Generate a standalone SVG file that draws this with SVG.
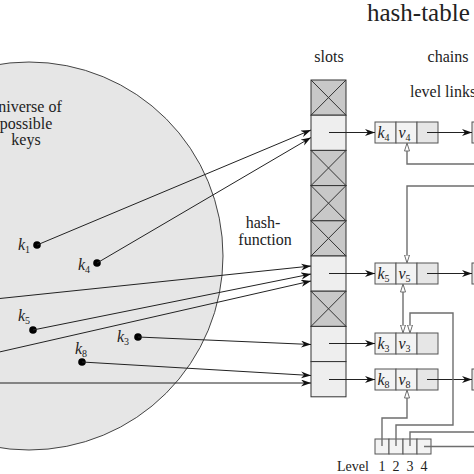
<svg xmlns="http://www.w3.org/2000/svg" width="474" height="474" viewBox="0 0 474 474" font-family="'Liberation Serif', 'DejaVu Serif', serif">
<style>
text{font-family:'Liberation Serif','DejaVu Serif',serif;fill:#222}
.lbl{font-size:16px}
.m{font-style:italic;font-size:16px}
.sub{font-style:normal;font-size:10px}
.slotx{fill:#c8c8c8;stroke:#333;stroke-width:1}
.slot{fill:#eeeeee;stroke:#333;stroke-width:1}
.x{stroke:#333;stroke-width:1}
.cell{fill:#f3f3f3;stroke:#555;stroke-width:1}
.ptr{fill:#e6e6e6;stroke:#555;stroke-width:1}
.blk{stroke:#222;stroke-width:1;fill:none;marker-end:url(#ah)}
.lvl{stroke:#6e6e6e;stroke-width:1.4;fill:none}
.dot{fill:#000}
</style>
<defs>
<marker id="ah" markerUnits="userSpaceOnUse" markerWidth="11" markerHeight="8" refX="10" refY="3.5" orient="auto">
<path d="M0,0 L10,3.5 L0,7 L3,3.5 z" fill="#111"/>
</marker>
<marker id="oh" markerUnits="userSpaceOnUse" markerWidth="10" markerHeight="8" refX="8.5" refY="3" orient="auto-start-reverse">
<path d="M0.5,0.5 L8.5,3 L0.5,5.5 z" fill="#fff" stroke="#6e6e6e" stroke-width="1"/>
</marker>
</defs>

<g id="universe">
<circle cx="29" cy="256" r="194" fill="#e6e6e6" stroke="#444" stroke-width="1"/>
<text class="lbl" x="26" y="112" text-anchor="middle">universe of</text>
<text class="lbl" x="26" y="128.5" text-anchor="middle">possible</text>
<text class="lbl" x="26" y="145" text-anchor="middle">keys</text>
</g>

<g id="keys">
<g id="key-k1"><circle class="dot" cx="37" cy="245" r="3.8"/><text class="m" x="18" y="250">k<tspan class="sub" dy="3">1</tspan></text></g>
<g id="key-k4"><circle class="dot" cx="97" cy="263" r="3.8"/><text class="m" x="78" y="270">k<tspan class="sub" dy="3">4</tspan></text></g>
<g id="key-k5"><circle class="dot" cx="33" cy="330" r="3.8"/><text class="m" x="18" y="321">k<tspan class="sub" dy="3">5</tspan></text></g>
<g id="key-k3"><circle class="dot" cx="138" cy="337" r="3.8"/><text class="m" x="117" y="342">k<tspan class="sub" dy="3">3</tspan></text></g>
<g id="key-k8"><circle class="dot" cx="82" cy="362" r="3.8"/><text class="m" x="75" y="354">k<tspan class="sub" dy="3">8</tspan></text></g>
</g>

<g id="labels">
<text x="367" y="21" style="font-size:25px">hash-table</text>
<text class="lbl" x="329" y="62" text-anchor="middle">slots</text>
<text class="lbl" x="448" y="62" text-anchor="middle">chains</text>
<text class="lbl" x="410" y="97">level links</text>
<text class="lbl" x="263" y="228" text-anchor="middle">hash-</text>
<text class="lbl" x="265" y="245" text-anchor="middle">function</text>
</g>

<g id="slots">
<rect class="slotx" x="311" y="80" width="35" height="35.2"/><path class="x" d="M311,80 L346,115.2 M346,80 L311,115.2"/>
<rect class="slot" x="311" y="115.2" width="35" height="35.2"/>
<rect class="slotx" x="311" y="150.4" width="35" height="35.2"/><path class="x" d="M311,150.4 L346,185.6 M346,150.4 L311,185.6"/>
<rect class="slotx" x="311" y="185.6" width="35" height="35.2"/><path class="x" d="M311,185.6 L346,220.8 M346,185.6 L311,220.8"/>
<rect class="slotx" x="311" y="220.8" width="35" height="35.2"/><path class="x" d="M311,220.8 L346,256 M346,220.8 L311,256"/>
<rect class="slot" x="311" y="256" width="35" height="35.2"/>
<rect class="slotx" x="311" y="291.2" width="35" height="35.2"/><path class="x" d="M311,291.2 L346,326.4 M346,291.2 L311,326.4"/>
<rect class="slot" x="311" y="326.4" width="35" height="35.2"/>
<rect class="slot" x="311" y="361.6" width="35" height="35.2"/>
</g>

<g id="node-k4">
<rect class="cell" x="375" y="122" width="21" height="21"/><rect class="cell" x="396" y="122" width="21" height="21"/><rect class="ptr" x="417" y="122" width="21" height="21"/>
<text class="m" x="377.5" y="137.5">k<tspan class="sub" dy="3">4</tspan></text>
<text class="m" x="398.5" y="137.5">v<tspan class="sub" dy="3">4</tspan></text>
</g>
<g id="node-k5">
<rect class="cell" x="375" y="263" width="21" height="21"/><rect class="cell" x="396" y="263" width="21" height="21"/><rect class="ptr" x="417" y="263" width="21" height="21"/>
<text class="m" x="377.5" y="278.5">k<tspan class="sub" dy="3">5</tspan></text>
<text class="m" x="398.5" y="278.5">v<tspan class="sub" dy="3">5</tspan></text>
</g>
<g id="node-k3">
<rect class="cell" x="375" y="333" width="21" height="21"/><rect class="cell" x="396" y="333" width="21" height="21"/><rect class="ptr" x="417" y="333" width="21" height="21"/>
<text class="m" x="377.5" y="348.5">k<tspan class="sub" dy="3">3</tspan></text>
<text class="m" x="398.5" y="348.5">v<tspan class="sub" dy="3">3</tspan></text>
</g>
<g id="node-k8">
<rect class="cell" x="375" y="369" width="21" height="21"/><rect class="cell" x="396" y="369" width="21" height="21"/><rect class="ptr" x="417" y="369" width="21" height="21"/>
<text class="m" x="377.5" y="384.5">k<tspan class="sub" dy="3">8</tspan></text>
<text class="m" x="398.5" y="384.5">v<tspan class="sub" dy="3">8</tspan></text>
</g>
<g id="next-nodes">
<rect class="ptr" x="472" y="122" width="21" height="21"/>
<rect class="ptr" x="472" y="263" width="21" height="21"/>
<rect class="ptr" x="472" y="369" width="21" height="21"/>
</g>

<g id="level-array">
<rect class="cell" x="375" y="439" width="14" height="15"/><rect class="cell" x="389" y="439" width="14" height="15"/><rect class="cell" x="403" y="439" width="14" height="15"/><rect class="cell" x="417" y="439" width="14" height="15"/>
<text x="337" y="471" style="font-size:14px">Level</text>
<text x="382" y="471" style="font-size:14px" text-anchor="middle">1</text>
<text x="396" y="471" style="font-size:14px" text-anchor="middle">2</text>
<text x="410" y="471" style="font-size:14px" text-anchor="middle">3</text>
<text x="424" y="471" style="font-size:14px" text-anchor="middle">4</text>
</g>

<g id="connectors">
<path class="blk" d="M37,245 L311,130"/>
<path class="blk" d="M97,263 L311,137.5"/>
<path class="blk" d="M-5,299 L311,266"/>
<path class="blk" d="M33,330 L311,274"/>
<path class="blk" d="M-5,353 L311,281"/>
<path class="blk" d="M138,337 L311,344.5"/>
<path class="blk" d="M82,362 L311,375.5"/>
<path class="blk" d="M-5,383 L311,383"/>
<path class="blk" d="M329,132.5 L375,132.5"/>
<path class="blk" d="M329,273.5 L375,273.5"/>
<path class="blk" d="M329,343.5 L375,343.5"/>
<path class="blk" d="M329,379.5 L375,379.5"/>
<path class="blk" d="M427,132.5 L472,132.5"/>
<path class="blk" d="M427,273.5 L472,273.5"/>
<path class="blk" d="M427,379.5 L472,379.5"/>
<path class="lvl" d="M476,164 H407 V143" marker-end="url(#oh)"/>
<path class="lvl" d="M476,186 H407 V263" marker-end="url(#oh)"/>
<path class="lvl" d="M403,284 V333" marker-start="url(#oh)" marker-end="url(#oh)"/>
<path class="lvl" d="M396,446 V425 H453 V313 H410 V333" marker-end="url(#oh)"/>
<path class="lvl" d="M382,446 V418 H407 V390" marker-end="url(#oh)"/>
<path class="lvl" d="M410,446 V432 H476"/>
<path class="lvl" d="M424,446.5 H476"/>
</g>
</svg>
